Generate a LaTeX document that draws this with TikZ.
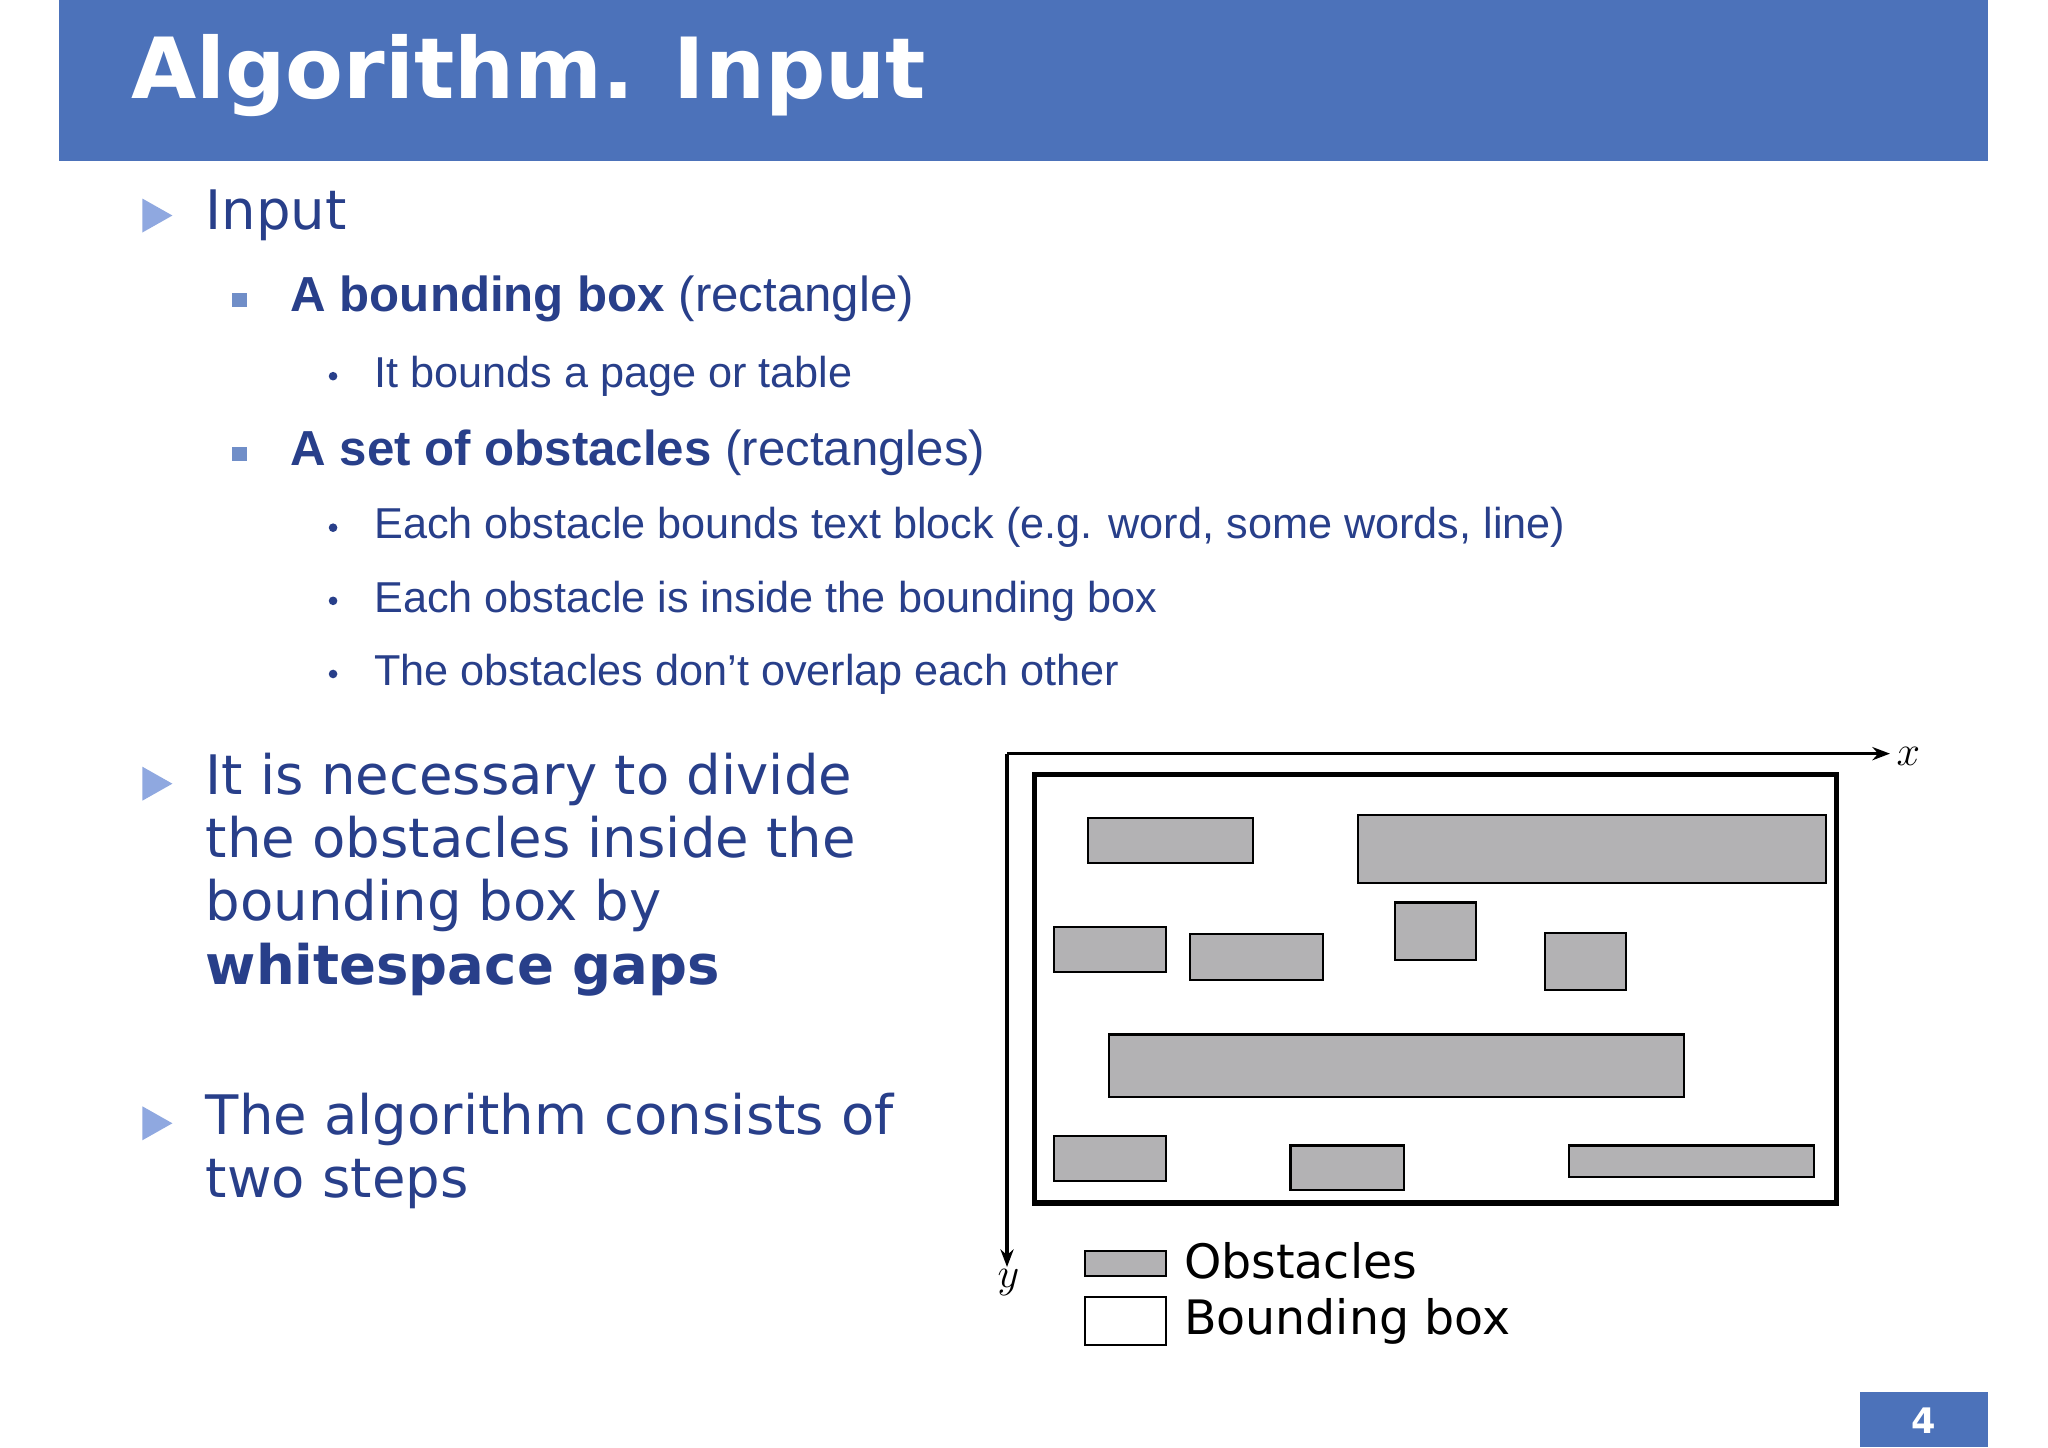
\documentclass[tikz,border=0pt]{standalone}
\usepackage{fontspec}
\setmainfont{DejaVu Sans}
\newfontfamily\arialf{Liberation Sans}
\usetikzlibrary{arrows.meta}
\definecolor{barblue}{HTML}{4C72BA}
\definecolor{navy}{HTML}{283F8A}
\definecolor{tri}{HTML}{8FA8E0}
\definecolor{obst}{HTML}{B3B2B4}
\tikzset{
 body/.style={anchor=west,inner sep=0pt,text=navy,font=\fontsize{15.5}{18.5}\selectfont},
 sub/.style={anchor=west,inner sep=0pt,text=navy,font=\arialf\fontsize{14}{17}\selectfont},
 subsub/.style={anchor=west,inner sep=0pt,text=navy,font=\arialf\fontsize{12.3}{15}\selectfont},
 ob/.style={draw=black,fill=obst,line width=0.6pt},
 legtext/.style={anchor=west,inner sep=0pt,font=\fontsize{13.5}{16}\selectfont}
}
\newcommand{\tribul}[2]{\fill[tri] (#1-11,#2-13) -- (#1+12,#2) -- (#1-11,#2+13) -- cycle;}
\begin{document}
\begin{tikzpicture}[x=0.01306cm,y=-0.01306cm]
\useasboundingbox (0,0) rectangle (1568,1108);
\fill[white] (0,0) rectangle (1568,1108);
\fill[barblue] (45,0) rectangle (1522,123);
\node[anchor=west,inner sep=0pt,text=white,font=\bfseries\fontsize{24}{28}\selectfont] (title) at (100,58) {Algorithm. Input};
\fill[barblue] (1424,1066) rectangle (1522,1108);
\node[text=white,font=\bfseries\fontsize{10}{12}\selectfont] (pg) at (1473,1088) {4};
% bullets
\tribul{120}{165}\tribul{120}{600}\tribul{120}{860}
\node[body] (inp) at (157,165) {Input};
\fill[barblue!80] (178,224) rectangle (189,235);
\fill[barblue!80] (178,342) rectangle (189,353);
\node[sub] (bb) at (222,229) {\textbf{A bounding box} (rectangle)};
\node[sub] (so) at (222,347) {\textbf{A set of obstacles} (rectangles)};
\foreach \yy in {288,404,460,516} \fill[navy] (255,\yy) circle (3.3);
\node[subsub] (t1) at (286,288) {It bounds a page or table};
\node[subsub] (t2) at (286,404) {Each obstacle bounds text block (e.g. word, some words, line)};
\node[subsub] (t3) at (286,460) {Each obstacle is inside the bounding box};
\node[subsub] (t4) at (286,516) {The obstacles don’t overlap each other};
\node[body,anchor=north west,align=left] (p1) at (157,576) {It is necessary to divide\\[-0.5pt]the obstacles inside the\\[-0.5pt]bounding box by\\[-0.5pt]\textbf{whitespace gaps}};
\node[body,anchor=north west,align=left] (p2) at (157,836) {The algorithm consists of\\[-0.5pt]two steps};
% diagram
\coordinate (o) at (771,577);
\coordinate (xe) at (1447,577);
\coordinate (ye) at (771,970);
\draw[line width=1pt,-{Stealth[length=5pt]}] (o) -- (xe);
\draw[line width=1pt,-{Stealth[length=5pt]}] (o) -- (ye);
\node[font=\itshape\fontsize{13}{15}\selectfont] (xl) at (1461,579) {$x$};
\node[font=\fontsize{13}{15}\selectfont] (yl) at (772,982) {$y$};
\draw[line width=1.6pt] (792,593) rectangle (1406,921);
\draw[ob] (833,626) rectangle (959,661);
\draw[ob] (1040,624) rectangle (1398,676);
\draw[ob] (807,710) rectangle (893,744);
\draw[ob] (911,715) rectangle (1013,750);
\draw[ob] (1068,691) rectangle (1130,735);
\draw[ob] (1183,714) rectangle (1245,758);
\draw[ob] (849,792) rectangle (1289,840);
\draw[ob] (807,870) rectangle (893,904);
\draw[ob] (988,877) rectangle (1075,911);
\draw[ob] (1201,877) rectangle (1389,901);
\draw[ob] (831,958) rectangle (893,977);
\draw[line width=0.6pt] (831,993) rectangle (893,1030);
\node[legtext] (l1) at (906,965) {Obstacles};
\node[legtext] (l2) at (906,1012) {Bounding box};
\end{tikzpicture}
\end{document}
